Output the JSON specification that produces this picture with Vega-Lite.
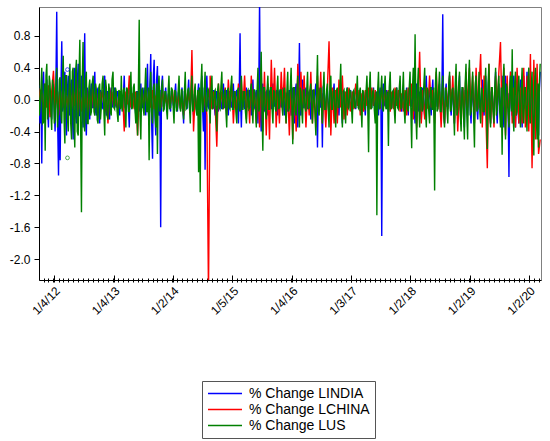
{
  "$schema": "https://vega.github.io/schema/vega-lite/v6.json",
  "autosize": {"type": "none"},
  "padding": {"left": 39, "top": 7, "right": 9, "bottom": 161},
  "width": 502,
  "height": 273,
  "datasets": {
    "marks": [
      {"d": "2012-03-27", "v": 0.376, "s": "#0000ff"},
      {"d": "2012-03-27", "v": -0.73, "s": "#008000"}
    ]
  },
  "data": {
    "values": [
      {"d": "2011-10-01", "i": 0.18, "c": -0.05, "u": 0.25},
      {"d": "2011-10-11", "i": -0.3, "c": 0.12, "u": -0.1},
      {"d": "2011-10-21", "i": -0.8, "c": 0.08, "u": 0.4},
      {"d": "2011-11-01", "i": 0.35, "c": -0.15, "u": -0.28},
      {"d": "2011-11-11", "i": -0.12, "c": 0.2, "u": -0.64},
      {"d": "2011-11-21", "i": 0.25, "c": -0.1, "u": 0.45},
      {"d": "2011-12-01", "i": -0.35, "c": 0.18, "u": -0.15},
      {"d": "2011-12-11", "i": 0.12, "c": -0.22, "u": 0.2},
      {"d": "2011-12-21", "i": -0.25, "c": 0.1, "u": -0.38},
      {"d": "2012-01-01", "i": 0.2, "c": 0.36, "u": 0.15},
      {"d": "2012-01-11", "i": -0.4, "c": -0.15, "u": -0.25},
      {"d": "2012-01-21", "i": 1.1, "c": 0.1, "u": 0.4},
      {"d": "2012-02-01", "i": -0.95, "c": -0.2, "u": -0.12},
      {"d": "2012-02-11", "i": -0.76, "c": 0.15, "u": 0.28},
      {"d": "2012-02-21", "i": 0.73, "c": -0.1, "u": -0.3},
      {"d": "2012-03-01", "i": -0.1, "c": 0.12, "u": 0.55},
      {"d": "2012-03-11", "i": 0.35, "c": -0.18, "u": -0.55},
      {"d": "2012-03-21", "i": -0.45, "c": 0.05, "u": 0.3},
      {"d": "2012-04-01", "i": 0.3, "c": -0.1, "u": -0.4},
      {"d": "2012-04-11", "i": -0.15, "c": 0.2, "u": 0.45},
      {"d": "2012-04-21", "i": 0.25, "c": -0.12, "u": -0.5},
      {"d": "2012-05-01", "i": -0.5, "c": 0.15, "u": 0.4},
      {"d": "2012-05-11", "i": 0.4, "c": -0.08, "u": -0.6},
      {"d": "2012-05-21", "i": -0.3, "c": 0.25, "u": 0.5},
      {"d": "2012-06-01", "i": 0.45, "c": -0.2, "u": -0.45},
      {"d": "2012-06-11", "i": -0.2, "c": 0.1, "u": 0.75},
      {"d": "2012-06-21", "i": 0.3, "c": -0.15, "u": -1.41},
      {"d": "2012-07-01", "i": -0.35, "c": 0.12, "u": 0.72},
      {"d": "2012-07-11", "i": 0.83, "c": -0.1, "u": -0.4},
      {"d": "2012-07-21", "i": -0.45, "c": 0.15, "u": 0.35},
      {"d": "2012-08-01", "i": 0.1, "c": -0.2, "u": -0.3},
      {"d": "2012-08-11", "i": -0.25, "c": 0.05, "u": 0.25},
      {"d": "2012-08-21", "i": 0.2, "c": -0.12, "u": -0.15},
      {"d": "2012-09-01", "i": -0.1, "c": 0.15, "u": 0.3},
      {"d": "2012-09-11", "i": 0.35, "c": -0.1, "u": -0.2},
      {"d": "2012-09-21", "i": -0.2, "c": 0.08, "u": 0.12},
      {"d": "2012-10-01", "i": 0.15, "c": -0.15, "u": -0.3},
      {"d": "2012-10-11", "i": -0.3, "c": 0.1, "u": 0.2},
      {"d": "2012-10-21", "i": 0.08, "c": -0.05, "u": -0.1},
      {"d": "2012-11-01", "i": -0.12, "c": 0.12, "u": 0.3},
      {"d": "2012-11-11", "i": 0.3, "c": -0.15, "u": -0.45},
      {"d": "2012-11-21", "i": -0.2, "c": 0.1, "u": 0.15},
      {"d": "2012-12-01", "i": 0.1, "c": -0.3, "u": -0.25},
      {"d": "2012-12-11", "i": -0.25, "c": 0.15, "u": 0.1},
      {"d": "2012-12-21", "i": 0.15, "c": -0.1, "u": -0.2},
      {"d": "2013-01-01", "i": -0.05, "c": 0.1, "u": 0.35},
      {"d": "2013-01-11", "i": 0.15, "c": -0.08, "u": -0.12},
      {"d": "2013-01-21", "i": -0.1, "c": 0.05, "u": 0.1},
      {"d": "2013-02-01", "i": 0.1, "c": -0.15, "u": -0.28},
      {"d": "2013-02-11", "i": -0.2, "c": 0.05, "u": 0.1},
      {"d": "2013-02-21", "i": 0.08, "c": -0.1, "u": 0.3},
      {"d": "2013-03-01", "i": -0.1, "c": 0.06, "u": -0.1},
      {"d": "2013-03-11", "i": 0.3, "c": -0.4, "u": 0.15},
      {"d": "2013-03-21", "i": -0.12, "c": 0.1, "u": -0.35},
      {"d": "2013-04-01", "i": 0.05, "c": -0.06, "u": 0.12},
      {"d": "2013-04-11", "i": -0.35, "c": 0.3, "u": -0.15},
      {"d": "2013-04-21", "i": 0.15, "c": -0.1, "u": 0.35},
      {"d": "2013-05-01", "i": -0.1, "c": 0.08, "u": -0.1},
      {"d": "2013-05-11", "i": 0.12, "c": -0.12, "u": 0.2},
      {"d": "2013-05-21", "i": -0.2, "c": 0.1, "u": -0.3},
      {"d": "2013-06-01", "i": 0.1, "c": -0.45, "u": -0.45},
      {"d": "2013-06-11", "i": -0.15, "c": 0.1, "u": 1.0},
      {"d": "2013-06-21", "i": 0.2, "c": -0.15, "u": -0.5},
      {"d": "2013-07-01", "i": -0.1, "c": 0.08, "u": 0.15},
      {"d": "2013-07-11", "i": 0.15, "c": -0.1, "u": -0.2},
      {"d": "2013-07-21", "i": -0.2, "c": 0.12, "u": 0.4},
      {"d": "2013-08-01", "i": 0.45, "c": -0.08, "u": -0.15},
      {"d": "2013-08-11", "i": -0.3, "c": 0.1, "u": -0.76},
      {"d": "2013-08-21", "i": 0.57, "c": -0.1, "u": 0.35},
      {"d": "2013-09-01", "i": -0.74, "c": 0.12, "u": -0.3},
      {"d": "2013-09-11", "i": 0.5, "c": -0.12, "u": 0.2},
      {"d": "2013-09-21", "i": -0.45, "c": 0.05, "u": -0.35},
      {"d": "2013-10-01", "i": 0.42, "c": -0.1, "u": -0.68},
      {"d": "2013-10-11", "i": -0.2, "c": 0.15, "u": 0.3},
      {"d": "2013-10-21", "i": -1.6, "c": -0.1, "u": -0.1},
      {"d": "2013-11-01", "i": 0.3, "c": 0.12, "u": 0.25},
      {"d": "2013-11-11", "i": -0.1, "c": -0.08, "u": -0.12},
      {"d": "2013-11-21", "i": 0.15, "c": 0.06, "u": 0.1},
      {"d": "2013-12-01", "i": -0.12, "c": -0.12, "u": -0.25},
      {"d": "2013-12-11", "i": 0.1, "c": 0.08, "u": 0.3},
      {"d": "2013-12-21", "i": -0.15, "c": -0.05, "u": -0.1},
      {"d": "2014-01-01", "i": 0.1, "c": 0.12, "u": 0.12},
      {"d": "2014-01-11", "i": -0.1, "c": -0.08, "u": -0.3},
      {"d": "2014-01-21", "i": 0.2, "c": 0.05, "u": 0.1},
      {"d": "2014-02-01", "i": -0.15, "c": -0.1, "u": -0.12},
      {"d": "2014-02-11", "i": 0.12, "c": 0.08, "u": 0.3},
      {"d": "2014-02-21", "i": -0.08, "c": -0.12, "u": -0.15},
      {"d": "2014-03-01", "i": 0.15, "c": 0.06, "u": 0.12},
      {"d": "2014-03-11", "i": -0.3, "c": -0.2, "u": -0.25},
      {"d": "2014-03-21", "i": 0.1, "c": 0.1, "u": 0.35},
      {"d": "2014-04-01", "i": -0.12, "c": -0.06, "u": -0.1},
      {"d": "2014-04-11", "i": 0.25, "c": 0.1, "u": 0.15},
      {"d": "2014-04-21", "i": -0.1, "c": -0.15, "u": -0.3},
      {"d": "2014-05-01", "i": 0.15, "c": 0.62, "u": 0.3},
      {"d": "2014-05-11", "i": -0.2, "c": -0.4, "u": -0.12},
      {"d": "2014-05-21", "i": 0.1, "c": 0.08, "u": 0.2},
      {"d": "2014-06-01", "i": -0.15, "c": -0.12, "u": -0.2},
      {"d": "2014-06-11", "i": 0.2, "c": 0.1, "u": -0.91},
      {"d": "2014-06-21", "i": -0.1, "c": -0.08, "u": -1.16},
      {"d": "2014-07-01", "i": 0.3, "c": 0.12, "u": 0.45},
      {"d": "2014-07-11", "i": -0.4, "c": -0.1, "u": -0.15},
      {"d": "2014-07-21", "i": -0.88, "c": 0.08, "u": 0.35},
      {"d": "2014-08-01", "i": 0.3, "c": -0.2, "u": -0.15},
      {"d": "2014-08-11", "i": -0.1, "c": -2.45, "u": 0.12},
      {"d": "2014-08-21", "i": 0.15, "c": 0.3, "u": -0.3},
      {"d": "2014-09-01", "i": -0.1, "c": -0.12, "u": 0.3},
      {"d": "2014-09-11", "i": 0.12, "c": 0.1, "u": -0.1},
      {"d": "2014-09-21", "i": -0.2, "c": -0.08, "u": 0.12},
      {"d": "2014-10-01", "i": 0.1, "c": -0.59, "u": -0.4},
      {"d": "2014-10-11", "i": -0.15, "c": 0.2, "u": 0.2},
      {"d": "2014-10-21", "i": 0.08, "c": -0.1, "u": -0.12},
      {"d": "2014-11-01", "i": -0.12, "c": 0.1, "u": 0.35},
      {"d": "2014-11-11", "i": 0.2, "c": -0.12, "u": -0.1},
      {"d": "2014-11-21", "i": -0.1, "c": 0.15, "u": 0.12},
      {"d": "2014-12-01", "i": 0.12, "c": -0.2, "u": -0.35},
      {"d": "2014-12-11", "i": -0.2, "c": 0.25, "u": 0.15},
      {"d": "2014-12-21", "i": 0.1, "c": -0.1, "u": -0.12},
      {"d": "2015-01-01", "i": -0.1, "c": 0.2, "u": 0.3},
      {"d": "2015-01-11", "i": 0.2, "c": -0.3, "u": -0.12},
      {"d": "2015-01-21", "i": -0.08, "c": 0.1, "u": 0.1},
      {"d": "2015-02-01", "i": 0.12, "c": -0.12, "u": -0.3},
      {"d": "2015-02-11", "i": -0.3, "c": 0.2, "u": 0.15},
      {"d": "2015-02-21", "i": 0.83, "c": -0.1, "u": -0.15},
      {"d": "2015-03-01", "i": -0.35, "c": 0.25, "u": 0.3},
      {"d": "2015-03-11", "i": 0.1, "c": -0.1, "u": -0.12},
      {"d": "2015-03-21", "i": -0.12, "c": 0.3, "u": 0.1},
      {"d": "2015-04-01", "i": 0.15, "c": -0.25, "u": -0.3},
      {"d": "2015-04-11", "i": -0.1, "c": 0.12, "u": 0.12},
      {"d": "2015-04-21", "i": 0.12, "c": -0.3, "u": -0.1},
      {"d": "2015-05-01", "i": -0.2, "c": 0.3, "u": 0.2},
      {"d": "2015-05-11", "i": 0.25, "c": -0.15, "u": -0.3},
      {"d": "2015-05-21", "i": -0.1, "c": 0.1, "u": 0.12},
      {"d": "2015-06-01", "i": 0.12, "c": -0.3, "u": -0.35},
      {"d": "2015-06-11", "i": -0.3, "c": 0.15, "u": 0.4},
      {"d": "2015-06-21", "i": 1.25, "c": -0.35, "u": -0.1},
      {"d": "2015-07-01", "i": -0.4, "c": 0.4, "u": 0.6},
      {"d": "2015-07-11", "i": 0.2, "c": -0.4, "u": -0.64},
      {"d": "2015-07-21", "i": -0.15, "c": 0.35, "u": 0.15},
      {"d": "2015-08-01", "i": 0.1, "c": -0.45, "u": -0.25},
      {"d": "2015-08-11", "i": -0.2, "c": 0.2, "u": 0.3},
      {"d": "2015-08-21", "i": 0.1, "c": -0.5, "u": -0.12},
      {"d": "2015-09-01", "i": -0.12, "c": 0.5, "u": 0.15},
      {"d": "2015-09-11", "i": 0.2, "c": -0.15, "u": -0.3},
      {"d": "2015-09-21", "i": -0.08, "c": 0.4, "u": 0.1},
      {"d": "2015-10-01", "i": 0.12, "c": -0.35, "u": -0.15},
      {"d": "2015-10-11", "i": -0.2, "c": 0.12, "u": 0.3},
      {"d": "2015-10-21", "i": 0.1, "c": -0.3, "u": -0.1},
      {"d": "2015-11-01", "i": -0.1, "c": 0.35, "u": 0.12},
      {"d": "2015-11-11", "i": 0.15, "c": -0.1, "u": -0.2},
      {"d": "2015-11-21", "i": -0.2, "c": 0.4, "u": 0.15},
      {"d": "2015-12-01", "i": 0.08, "c": -0.3, "u": -0.3},
      {"d": "2015-12-11", "i": -0.15, "c": 0.12, "u": 0.35},
      {"d": "2015-12-21", "i": 0.12, "c": -0.45, "u": -0.1},
      {"d": "2016-01-01", "i": -0.2, "c": 0.3, "u": 0.4},
      {"d": "2016-01-11", "i": 0.15, "c": -0.5, "u": -0.56},
      {"d": "2016-01-21", "i": -0.3, "c": 0.12, "u": 0.15},
      {"d": "2016-02-01", "i": 0.2, "c": -0.4, "u": -0.2},
      {"d": "2016-02-11", "i": -0.35, "c": 0.45, "u": 0.3},
      {"d": "2016-02-21", "i": 0.71, "c": -0.15, "u": -0.35},
      {"d": "2016-03-01", "i": -0.2, "c": 0.35, "u": 0.1},
      {"d": "2016-03-11", "i": 0.25, "c": -0.12, "u": -0.3},
      {"d": "2016-03-21", "i": -0.1, "c": 0.3, "u": 0.12},
      {"d": "2016-04-01", "i": 0.15, "c": -0.35, "u": -0.15},
      {"d": "2016-04-11", "i": -0.12, "c": 0.12, "u": 0.35},
      {"d": "2016-04-21", "i": 0.1, "c": -0.2, "u": -0.1},
      {"d": "2016-05-01", "i": -0.25, "c": 0.35, "u": 0.2},
      {"d": "2016-05-11", "i": 0.12, "c": -0.3, "u": -0.3},
      {"d": "2016-05-21", "i": -0.1, "c": 0.12, "u": 0.12},
      {"d": "2016-06-01", "i": 0.2, "c": -0.35, "u": -0.45},
      {"d": "2016-06-11", "i": -0.6, "c": 0.3, "u": 0.56},
      {"d": "2016-06-21", "i": 0.15, "c": -0.15, "u": -0.2},
      {"d": "2016-07-01", "i": -0.1, "c": 0.35, "u": 0.15},
      {"d": "2016-07-11", "i": -0.6, "c": -0.3, "u": -0.3},
      {"d": "2016-07-21", "i": 0.2, "c": 0.12, "u": 0.35},
      {"d": "2016-08-01", "i": -0.15, "c": -0.35, "u": -0.12},
      {"d": "2016-08-11", "i": 0.12, "c": 0.15, "u": 0.2},
      {"d": "2016-08-21", "i": -0.2, "c": 0.73, "u": -0.35},
      {"d": "2016-09-01", "i": 0.15, "c": -0.45, "u": 0.3},
      {"d": "2016-09-11", "i": -0.1, "c": 0.15, "u": -0.12},
      {"d": "2016-09-21", "i": 0.2, "c": -0.3, "u": 0.12},
      {"d": "2016-10-01", "i": -0.15, "c": 0.12, "u": -0.35},
      {"d": "2016-10-11", "i": 0.08, "c": -0.3, "u": 0.15},
      {"d": "2016-10-21", "i": -0.2, "c": 0.25, "u": -0.1},
      {"d": "2016-11-01", "i": 0.2, "c": -0.1, "u": 0.45},
      {"d": "2016-11-11", "i": -0.3, "c": 0.3, "u": -0.35},
      {"d": "2016-11-21", "i": 0.1, "c": -0.25, "u": 0.12},
      {"d": "2016-12-01", "i": -0.12, "c": 0.1, "u": -0.3},
      {"d": "2016-12-11", "i": 0.15, "c": -0.2, "u": 0.15},
      {"d": "2016-12-21", "i": -0.08, "c": 0.15, "u": -0.12},
      {"d": "2017-01-01", "i": 0.12, "c": -0.15, "u": 0.1},
      {"d": "2017-01-11", "i": -0.15, "c": 0.1, "u": -0.3},
      {"d": "2017-01-21", "i": 0.08, "c": -0.12, "u": 0.12},
      {"d": "2017-02-01", "i": -0.12, "c": 0.2, "u": -0.1},
      {"d": "2017-02-11", "i": 0.15, "c": -0.08, "u": 0.3},
      {"d": "2017-02-21", "i": -0.08, "c": 0.12, "u": -0.12},
      {"d": "2017-03-01", "i": 0.12, "c": -0.2, "u": 0.15},
      {"d": "2017-03-11", "i": -0.15, "c": 0.08, "u": -0.35},
      {"d": "2017-03-21", "i": 0.08, "c": -0.15, "u": 0.1},
      {"d": "2017-04-01", "i": -0.2, "c": 0.12, "u": -0.12},
      {"d": "2017-04-11", "i": 0.15, "c": -0.08, "u": 0.3},
      {"d": "2017-04-21", "i": -0.12, "c": 0.15, "u": -0.66},
      {"d": "2017-05-01", "i": 0.2, "c": -0.12, "u": 0.35},
      {"d": "2017-05-11", "i": -0.08, "c": 0.15, "u": -0.1},
      {"d": "2017-05-21", "i": 0.15, "c": -0.08, "u": 0.12},
      {"d": "2017-06-01", "i": -0.12, "c": 0.12, "u": -0.3},
      {"d": "2017-06-11", "i": 0.1, "c": -0.15, "u": -1.45},
      {"d": "2017-06-21", "i": -0.2, "c": 0.08, "u": 0.35},
      {"d": "2017-07-01", "i": 0.15, "c": -0.12, "u": -0.1},
      {"d": "2017-07-11", "i": -1.71, "c": 0.15, "u": 0.3},
      {"d": "2017-07-21", "i": 0.2, "c": -0.1, "u": -0.15},
      {"d": "2017-08-01", "i": -0.08, "c": 0.15, "u": 0.3},
      {"d": "2017-08-11", "i": 0.12, "c": -0.08, "u": -0.1},
      {"d": "2017-08-21", "i": -0.15, "c": 0.12, "u": -0.58},
      {"d": "2017-09-01", "i": 0.15, "c": -0.15, "u": 0.35},
      {"d": "2017-09-11", "i": -0.08, "c": 0.1, "u": -0.1},
      {"d": "2017-09-21", "i": 0.12, "c": -0.12, "u": 0.12},
      {"d": "2017-10-01", "i": -0.12, "c": 0.15, "u": -0.3},
      {"d": "2017-10-11", "i": 0.15, "c": -0.08, "u": 0.15},
      {"d": "2017-10-21", "i": -0.08, "c": 0.12, "u": -0.12},
      {"d": "2017-11-01", "i": 0.12, "c": -0.15, "u": 0.3},
      {"d": "2017-11-11", "i": -0.15, "c": 0.08, "u": -0.1},
      {"d": "2017-11-21", "i": 0.08, "c": -0.15, "u": 0.35},
      {"d": "2017-12-01", "i": -0.12, "c": 0.12, "u": -0.3},
      {"d": "2017-12-11", "i": 0.15, "c": -0.2, "u": 0.12},
      {"d": "2017-12-21", "i": -0.2, "c": 0.15, "u": -0.15},
      {"d": "2018-01-01", "i": 0.2, "c": -0.08, "u": 0.35},
      {"d": "2018-01-11", "i": -0.08, "c": 0.2, "u": -0.61},
      {"d": "2018-01-21", "i": 0.15, "c": -0.25, "u": 0.4},
      {"d": "2018-02-01", "i": -0.3, "c": 0.3, "u": 0.82},
      {"d": "2018-02-11", "i": 0.2, "c": -0.35, "u": -0.5},
      {"d": "2018-02-21", "i": -0.15, "c": 0.1, "u": 0.4},
      {"d": "2018-03-01", "i": 0.1, "c": 0.6, "u": -0.35},
      {"d": "2018-03-11", "i": -0.25, "c": -0.3, "u": 0.15},
      {"d": "2018-03-21", "i": 0.15, "c": 0.12, "u": -0.12},
      {"d": "2018-04-01", "i": -0.2, "c": -0.25, "u": 0.4},
      {"d": "2018-04-11", "i": 0.3, "c": 0.15, "u": -0.35},
      {"d": "2018-04-21", "i": -0.08, "c": -0.12, "u": 0.12},
      {"d": "2018-05-01", "i": 0.15, "c": 0.3, "u": -0.3},
      {"d": "2018-05-11", "i": -0.2, "c": -0.1, "u": 0.15},
      {"d": "2018-05-21", "i": 0.25, "c": 0.12, "u": -0.12},
      {"d": "2018-06-01", "i": -0.2, "c": -0.3, "u": -1.14},
      {"d": "2018-06-11", "i": 0.15, "c": 0.35, "u": 0.4},
      {"d": "2018-06-21", "i": -0.08, "c": -0.12, "u": -0.12},
      {"d": "2018-07-01", "i": 0.2, "c": 0.1, "u": 0.35},
      {"d": "2018-07-11", "i": -0.25, "c": -0.35, "u": -0.15},
      {"d": "2018-07-21", "i": 1.07, "c": 0.15, "u": 0.3},
      {"d": "2018-08-01", "i": -0.3, "c": -0.3, "u": -0.35},
      {"d": "2018-08-11", "i": 0.2, "c": 0.15, "u": 0.12},
      {"d": "2018-08-21", "i": -0.08, "c": -0.12, "u": -0.3},
      {"d": "2018-09-01", "i": 0.3, "c": 0.3, "u": 0.35},
      {"d": "2018-09-11", "i": -0.2, "c": -0.1, "u": -0.12},
      {"d": "2018-09-21", "i": 0.1, "c": 0.3, "u": 0.15},
      {"d": "2018-10-01", "i": -0.3, "c": -0.3, "u": -0.45},
      {"d": "2018-10-11", "i": 0.2, "c": 0.35, "u": 0.45},
      {"d": "2018-10-21", "i": -0.08, "c": -0.4, "u": -0.15},
      {"d": "2018-11-01", "i": 0.3, "c": 0.12, "u": 0.35},
      {"d": "2018-11-11", "i": -0.2, "c": -0.3, "u": -0.4},
      {"d": "2018-11-21", "i": 0.15, "c": 0.15, "u": 0.15},
      {"d": "2018-12-01", "i": -0.35, "c": -0.12, "u": -0.5},
      {"d": "2018-12-11", "i": 0.1, "c": 0.35, "u": 0.45},
      {"d": "2018-12-21", "i": -0.2, "c": -0.1, "u": -0.5},
      {"d": "2019-01-01", "i": 0.25, "c": 0.4, "u": 0.5},
      {"d": "2019-01-11", "i": -0.3, "c": -0.15, "u": -0.15},
      {"d": "2019-01-21", "i": 0.08, "c": 0.3, "u": 0.35},
      {"d": "2019-02-01", "i": -0.2, "c": -0.3, "u": -0.6},
      {"d": "2019-02-11", "i": 0.3, "c": 0.4, "u": 0.3},
      {"d": "2019-02-21", "i": -0.25, "c": -0.12, "u": -0.12},
      {"d": "2019-03-01", "i": 0.2, "c": 0.15, "u": 0.35},
      {"d": "2019-03-11", "i": -0.08, "c": 0.57, "u": -0.3},
      {"d": "2019-03-21", "i": 0.25, "c": -0.35, "u": 0.12},
      {"d": "2019-04-01", "i": -0.2, "c": 0.3, "u": -0.15},
      {"d": "2019-04-11", "i": 0.3, "c": -0.12, "u": 0.4},
      {"d": "2019-04-21", "i": -0.15, "c": -0.86, "u": -0.62},
      {"d": "2019-05-01", "i": 0.35, "c": 0.45, "u": 0.45},
      {"d": "2019-05-11", "i": -0.3, "c": -0.3, "u": -0.35},
      {"d": "2019-05-21", "i": 0.08, "c": 0.15, "u": 0.15},
      {"d": "2019-06-01", "i": -0.2, "c": -0.35, "u": -0.3},
      {"d": "2019-06-11", "i": 0.35, "c": 0.3, "u": 0.4},
      {"d": "2019-06-21", "i": -0.3, "c": -0.1, "u": -0.12},
      {"d": "2019-07-01", "i": 0.2, "c": 0.35, "u": 0.3},
      {"d": "2019-07-11", "i": -0.15, "c": 0.72, "u": -0.35},
      {"d": "2019-07-21", "i": 0.3, "c": -0.35, "u": -0.69},
      {"d": "2019-08-01", "i": -0.35, "c": 0.4, "u": 0.45},
      {"d": "2019-08-11", "i": 0.3, "c": -0.45, "u": -0.5},
      {"d": "2019-08-21", "i": -0.1, "c": 0.3, "u": 0.15},
      {"d": "2019-09-01", "i": -0.97, "c": -0.3, "u": -0.35},
      {"d": "2019-09-11", "i": 0.35, "c": 0.35, "u": 0.3},
      {"d": "2019-09-21", "i": -0.2, "c": -0.3, "u": 0.63},
      {"d": "2019-10-01", "i": 0.3, "c": 0.15, "u": -0.4},
      {"d": "2019-10-11", "i": -0.35, "c": -0.35, "u": 0.35},
      {"d": "2019-10-21", "i": 0.12, "c": 0.4, "u": -0.15},
      {"d": "2019-11-01", "i": -0.3, "c": -0.3, "u": 0.3},
      {"d": "2019-11-11", "i": 0.25, "c": 0.15, "u": -0.35},
      {"d": "2019-11-21", "i": -0.35, "c": -0.3, "u": 0.4},
      {"d": "2019-12-01", "i": 0.3, "c": 0.4, "u": -0.3},
      {"d": "2019-12-11", "i": -0.12, "c": -0.35, "u": 0.15},
      {"d": "2019-12-21", "i": 0.35, "c": 0.3, "u": -0.4},
      {"d": "2020-01-01", "i": -0.3, "c": -0.4, "u": 0.4},
      {"d": "2020-01-11", "i": 0.25, "c": 0.57, "u": -0.3},
      {"d": "2020-01-21", "i": -0.35, "c": -0.86, "u": 0.35},
      {"d": "2020-02-01", "i": 0.3, "c": 0.5, "u": -0.7},
      {"d": "2020-02-11", "i": -0.35, "c": -0.5, "u": 0.4},
      {"d": "2020-02-21", "i": 0.25, "c": 0.45, "u": -0.5},
      {"d": "2020-03-01", "i": -0.45, "c": -0.68, "u": -0.6},
      {"d": "2020-03-11", "i": 0.35, "c": -0.5, "u": 0.45},
      {"d": "2011-10-06", "i": -0.1, "u": -0.2},
      {"d": "2011-10-16", "i": 0.12, "u": 0.15},
      {"d": "2011-10-26", "i": 0.2, "u": -0.3},
      {"d": "2011-11-06", "i": -0.15, "u": 0.2},
      {"d": "2011-11-16", "i": 0.1, "u": 0.3},
      {"d": "2011-11-26", "i": -0.1, "u": -0.25},
      {"d": "2011-12-06", "i": 0.15, "u": 0.3},
      {"d": "2011-12-16", "i": -0.1, "u": -0.15},
      {"d": "2011-12-26", "i": 0.1, "u": 0.25},
      {"d": "2012-01-06", "i": -0.15, "u": -0.3},
      {"d": "2012-01-16", "i": 0.2, "u": 0.2},
      {"d": "2012-01-26", "i": -0.2, "u": -0.35},
      {"d": "2012-02-06", "i": 0.1, "u": 0.25},
      {"d": "2012-02-16", "i": 0.15, "u": -0.2},
      {"d": "2012-02-26", "i": -0.15, "u": 0.3},
      {"d": "2012-03-06", "i": 0.2, "u": -0.25},
      {"d": "2012-03-16", "i": -0.15, "u": 0.3},
      {"d": "2012-03-26", "i": 0.1, "u": -0.2},
      {"d": "2012-04-06", "i": -0.2, "u": 0.2},
      {"d": "2012-04-16", "i": 0.15, "u": -0.3},
      {"d": "2012-04-26", "i": -0.15, "u": 0.35},
      {"d": "2012-05-06", "i": 0.15, "u": -0.3},
      {"d": "2012-05-16", "i": -0.2, "u": 0.35},
      {"d": "2012-05-26", "i": 0.2, "u": -0.4},
      {"d": "2012-06-06", "i": -0.2, "u": 0.3},
      {"d": "2012-06-16", "i": 0.1, "u": -0.35},
      {"d": "2012-06-26", "i": -0.2, "u": 0.25},
      {"d": "2012-07-06", "i": 0.2, "u": -0.3},
      {"d": "2012-07-16", "i": -0.25, "u": 0.25},
      {"d": "2012-07-26", "i": 0.15, "u": -0.3},
      {"d": "2012-08-06", "i": -0.12, "u": 0.15},
      {"d": "2012-08-16", "i": 0.1, "u": -0.2},
      {"d": "2012-08-26", "i": -0.1, "u": 0.2},
      {"d": "2012-09-06", "i": 0.12, "u": -0.15},
      {"d": "2012-09-16", "i": -0.15, "u": 0.2},
      {"d": "2012-09-26", "i": 0.1, "u": -0.25},
      {"d": "2012-10-06", "i": -0.1, "u": 0.15},
      {"d": "2012-10-16", "i": 0.12, "u": -0.25},
      {"d": "2012-10-26", "i": -0.08, "u": 0.2},
      {"d": "2012-11-06", "i": 0.1, "u": -0.15},
      {"d": "2012-11-16", "i": -0.12, "u": 0.25},
      {"d": "2012-11-26", "i": 0.1, "u": -0.2},
      {"d": "2012-12-06", "i": -0.1, "u": 0.2},
      {"d": "2012-12-16", "i": 0.08, "u": -0.15},
      {"d": "2012-12-26", "i": -0.1, "u": 0.25},
      {"d": "2013-01-06", "i": 0.08, "u": -0.1},
      {"d": "2013-01-16", "i": -0.06, "u": 0.15},
      {"d": "2013-01-26", "i": 0.1, "u": -0.15},
      {"d": "2013-02-06", "i": -0.06, "u": 0.12},
      {"d": "2013-02-16", "i": 0.1, "u": -0.12},
      {"d": "2013-02-26", "i": -0.05, "u": -0.15},
      {"d": "2013-03-06", "i": 0.06, "u": 0.12},
      {"d": "2013-03-16", "i": -0.1, "u": -0.1},
      {"d": "2013-03-26", "i": 0.08, "u": 0.15},
      {"d": "2013-04-06", "i": -0.1, "u": -0.15},
      {"d": "2013-04-16", "i": 0.1, "u": 0.12},
      {"d": "2013-04-26", "i": -0.06, "u": -0.12},
      {"d": "2013-05-06", "i": 0.08, "u": 0.15},
      {"d": "2013-05-16", "i": -0.06, "u": -0.12},
      {"d": "2013-05-26", "i": 0.1, "u": 0.1},
      {"d": "2013-06-06", "i": -0.08, "u": 0.15},
      {"d": "2013-06-16", "i": 0.1, "u": -0.2},
      {"d": "2013-06-26", "i": -0.1, "u": 0.12},
      {"d": "2013-07-06", "i": 0.06, "u": -0.12},
      {"d": "2013-07-16", "i": -0.08, "u": 0.12},
      {"d": "2013-07-26", "i": 0.12, "u": -0.15},
      {"d": "2013-08-06", "i": -0.15, "u": 0.15},
      {"d": "2013-08-16", "i": 0.2, "u": 0.12},
      {"d": "2013-08-26", "i": -0.25, "u": -0.15},
      {"d": "2013-09-06", "i": 0.3, "u": 0.15},
      {"d": "2013-09-16", "i": -0.2, "u": -0.12},
      {"d": "2013-09-26", "i": 0.25, "u": 0.2},
      {"d": "2013-10-06", "i": -0.15, "u": 0.15},
      {"d": "2013-10-16", "i": 0.12, "u": -0.15},
      {"d": "2013-10-26", "i": 0.15, "u": 0.12},
      {"d": "2013-11-06", "i": -0.08, "u": -0.15},
      {"d": "2013-11-16", "i": 0.06, "u": 0.1},
      {"d": "2013-11-26", "i": -0.08, "u": -0.12},
      {"d": "2013-12-06", "i": 0.06, "u": 0.1},
      {"d": "2013-12-16", "i": -0.08, "u": -0.12},
      {"d": "2013-12-26", "i": 0.1, "u": 0.15},
      {"d": "2014-01-06", "i": -0.06, "u": -0.1},
      {"d": "2014-01-16", "i": 0.08, "u": 0.12},
      {"d": "2014-01-26", "i": -0.1, "u": -0.15},
      {"d": "2014-02-06", "i": 0.08, "u": 0.12},
      {"d": "2014-02-16", "i": -0.06, "u": -0.1},
      {"d": "2014-02-26", "i": 0.06, "u": 0.12},
      {"d": "2014-03-06", "i": -0.08, "u": -0.12},
      {"d": "2014-03-16", "i": 0.1, "u": 0.1},
      {"d": "2014-03-26", "i": -0.06, "u": -0.12},
      {"d": "2014-04-06", "i": 0.08, "u": 0.12},
      {"d": "2014-04-16", "i": -0.1, "u": -0.1},
      {"d": "2014-04-26", "i": 0.06, "u": 0.12},
      {"d": "2014-05-06", "i": -0.08, "u": -0.15},
      {"d": "2014-05-16", "i": 0.06, "u": 0.1},
      {"d": "2014-05-26", "i": -0.08, "u": -0.12},
      {"d": "2014-06-06", "i": 0.08, "u": 0.12},
      {"d": "2014-06-16", "i": -0.1, "u": 0.15},
      {"d": "2014-06-26", "i": 0.1, "u": 0.2},
      {"d": "2014-07-06", "i": -0.12, "u": -0.15},
      {"d": "2014-07-16", "i": 0.15, "u": 0.12},
      {"d": "2014-07-26", "i": 0.12, "u": -0.12},
      {"d": "2014-08-06", "i": -0.08, "u": 0.15},
      {"d": "2014-08-16", "i": 0.06, "u": -0.1},
      {"d": "2014-08-26", "i": -0.08, "u": 0.12},
      {"d": "2014-09-06", "i": 0.06, "u": -0.12},
      {"d": "2014-09-16", "i": -0.08, "u": 0.1},
      {"d": "2014-09-26", "i": 0.1, "u": -0.12},
      {"d": "2014-10-06", "i": -0.06, "u": 0.12},
      {"d": "2014-10-16", "i": 0.08, "u": -0.1},
      {"d": "2014-10-26", "i": -0.06, "u": 0.15},
      {"d": "2014-11-06", "i": 0.08, "u": -0.12},
      {"d": "2014-11-16", "i": -0.1, "u": 0.1},
      {"d": "2014-11-26", "i": 0.06, "u": -0.15},
      {"d": "2014-12-06", "i": -0.08, "u": 0.12},
      {"d": "2014-12-16", "i": 0.1, "u": -0.1},
      {"d": "2014-12-26", "i": -0.06, "u": 0.15},
      {"d": "2015-01-06", "i": 0.06, "u": -0.12},
      {"d": "2015-01-16", "i": -0.1, "u": 0.1},
      {"d": "2015-01-26", "i": 0.08, "u": -0.15},
      {"d": "2015-02-06", "i": -0.08, "u": 0.12},
      {"d": "2015-02-16", "i": 0.12, "u": -0.12},
      {"d": "2015-02-26", "i": -0.15, "u": 0.12},
      {"d": "2015-03-06", "i": 0.1, "u": -0.12},
      {"d": "2015-03-16", "i": -0.06, "u": 0.1},
      {"d": "2015-03-26", "i": 0.08, "u": -0.15},
      {"d": "2015-04-06", "i": -0.06, "u": 0.1},
      {"d": "2015-04-16", "i": 0.08, "u": -0.12},
      {"d": "2015-04-26", "i": -0.06, "u": 0.12},
      {"d": "2015-05-06", "i": 0.1, "u": -0.12},
      {"d": "2015-05-16", "i": -0.08, "u": 0.12},
      {"d": "2015-05-26", "i": 0.06, "u": -0.1},
      {"d": "2015-06-06", "i": -0.06, "u": 0.12},
      {"d": "2015-06-16", "i": 0.1, "u": -0.15},
      {"d": "2015-06-26", "i": -0.15, "u": 0.15},
      {"d": "2015-07-06", "i": 0.1, "u": -0.15},
      {"d": "2015-07-16", "i": -0.1, "u": 0.15},
      {"d": "2015-07-26", "i": 0.08, "u": -0.12},
      {"d": "2015-08-06", "i": -0.08, "u": 0.12},
      {"d": "2015-08-16", "i": 0.08, "u": -0.12},
      {"d": "2015-08-26", "i": -0.06, "u": 0.15},
      {"d": "2015-09-06", "i": 0.06, "u": -0.12},
      {"d": "2015-09-16", "i": -0.08, "u": 0.12},
      {"d": "2015-09-26", "i": 0.08, "u": -0.12},
      {"d": "2015-10-06", "i": -0.06, "u": 0.12},
      {"d": "2015-10-16", "i": 0.08, "u": -0.12},
      {"d": "2015-10-26", "i": -0.06, "u": 0.12},
      {"d": "2015-11-06", "i": 0.08, "u": -0.1},
      {"d": "2015-11-16", "i": -0.06, "u": 0.12},
      {"d": "2015-11-26", "i": 0.08, "u": -0.12},
      {"d": "2015-12-06", "i": -0.06, "u": 0.12},
      {"d": "2015-12-16", "i": 0.06, "u": -0.15},
      {"d": "2015-12-26", "i": -0.08, "u": 0.12},
      {"d": "2016-01-06", "i": 0.08, "u": -0.12},
      {"d": "2016-01-16", "i": -0.08, "u": 0.15},
      {"d": "2016-01-26", "i": 0.1, "u": -0.15},
      {"d": "2016-02-06", "i": -0.1, "u": 0.12},
      {"d": "2016-02-16", "i": 0.12, "u": -0.12},
      {"d": "2016-02-26", "i": -0.15, "u": 0.15},
      {"d": "2016-03-06", "i": 0.08, "u": -0.12},
      {"d": "2016-03-16", "i": -0.1, "u": 0.12},
      {"d": "2016-03-26", "i": 0.06, "u": -0.1},
      {"d": "2016-04-06", "i": -0.06, "u": 0.12},
      {"d": "2016-04-16", "i": 0.08, "u": -0.12},
      {"d": "2016-04-26", "i": -0.06, "u": 0.12},
      {"d": "2016-05-06", "i": 0.08, "u": -0.1},
      {"d": "2016-05-16", "i": -0.06, "u": 0.12},
      {"d": "2016-05-26", "i": 0.08, "u": -0.15},
      {"d": "2016-06-06", "i": -0.08, "u": 0.15},
      {"d": "2016-06-16", "i": 0.1, "u": -0.15},
      {"d": "2016-06-26", "i": -0.06, "u": 0.12},
      {"d": "2016-07-06", "i": 0.08, "u": -0.12},
      {"d": "2016-07-16", "i": 0.15, "u": 0.12},
      {"d": "2016-07-26", "i": -0.08, "u": -0.12},
      {"d": "2016-08-06", "i": 0.06, "u": 0.12},
      {"d": "2016-08-16", "i": -0.08, "u": -0.12},
      {"d": "2016-08-26", "i": 0.08, "u": 0.15},
      {"d": "2016-09-06", "i": -0.06, "u": -0.12},
      {"d": "2016-09-16", "i": 0.08, "u": 0.1},
      {"d": "2016-09-26", "i": -0.08, "u": -0.12},
      {"d": "2016-10-06", "i": 0.06, "u": 0.12},
      {"d": "2016-10-16", "i": -0.06, "u": -0.1},
      {"d": "2016-10-26", "i": 0.08, "u": 0.12},
      {"d": "2016-11-06", "i": -0.08, "u": -0.12},
      {"d": "2016-11-16", "i": 0.1, "u": 0.1},
      {"d": "2016-11-26", "i": -0.06, "u": -0.12},
      {"d": "2016-12-06", "i": 0.06, "u": 0.1},
      {"d": "2016-12-16", "i": -0.06, "u": -0.1},
      {"d": "2016-12-26", "i": 0.06, "u": 0.12},
      {"d": "2017-01-06", "i": -0.06, "u": -0.1},
      {"d": "2017-01-16", "i": 0.06, "u": 0.1},
      {"d": "2017-01-26", "i": -0.06, "u": -0.1},
      {"d": "2017-02-06", "i": 0.06, "u": 0.1},
      {"d": "2017-02-16", "i": -0.06, "u": -0.1},
      {"d": "2017-02-26", "i": 0.06, "u": 0.12},
      {"d": "2017-03-06", "i": -0.06, "u": -0.1},
      {"d": "2017-03-16", "i": 0.06, "u": 0.12},
      {"d": "2017-03-26", "i": -0.06, "u": -0.1},
      {"d": "2017-04-06", "i": 0.06, "u": 0.12},
      {"d": "2017-04-16", "i": -0.06, "u": -0.1},
      {"d": "2017-04-26", "i": 0.06, "u": 0.15},
      {"d": "2017-05-06", "i": -0.06, "u": -0.12},
      {"d": "2017-05-16", "i": 0.06, "u": 0.1},
      {"d": "2017-05-26", "i": -0.06, "u": -0.12},
      {"d": "2017-06-06", "i": 0.06, "u": 0.1},
      {"d": "2017-06-16", "i": -0.06, "u": 0.12},
      {"d": "2017-06-26", "i": 0.06, "u": -0.12},
      {"d": "2017-07-06", "i": -0.06, "u": 0.12},
      {"d": "2017-07-16", "i": 0.1, "u": -0.1},
      {"d": "2017-07-26", "i": -0.06, "u": 0.12},
      {"d": "2017-08-06", "i": 0.06, "u": -0.12},
      {"d": "2017-08-16", "i": -0.06, "u": 0.1},
      {"d": "2017-08-26", "i": 0.06, "u": 0.15},
      {"d": "2017-09-06", "i": -0.06, "u": -0.12},
      {"d": "2017-09-16", "i": 0.06, "u": 0.1},
      {"d": "2017-09-26", "i": -0.06, "u": -0.12},
      {"d": "2017-10-06", "i": 0.06, "u": 0.1},
      {"d": "2017-10-16", "i": -0.06, "u": -0.1},
      {"d": "2017-10-26", "i": 0.06, "u": 0.12},
      {"d": "2017-11-06", "i": -0.06, "u": -0.12},
      {"d": "2017-11-16", "i": 0.06, "u": 0.1},
      {"d": "2017-11-26", "i": -0.06, "u": -0.12},
      {"d": "2017-12-06", "i": 0.06, "u": 0.1},
      {"d": "2017-12-16", "i": -0.06, "u": -0.12},
      {"d": "2017-12-26", "i": 0.08, "u": 0.12},
      {"d": "2018-01-06", "i": -0.08, "u": -0.15},
      {"d": "2018-01-16", "i": 0.08, "u": 0.15},
      {"d": "2018-01-26", "i": -0.1, "u": -0.15},
      {"d": "2018-02-06", "i": 0.1, "u": -0.2},
      {"d": "2018-02-16", "i": -0.1, "u": 0.15},
      {"d": "2018-02-26", "i": 0.08, "u": -0.2},
      {"d": "2018-03-06", "i": -0.08, "u": 0.15},
      {"d": "2018-03-16", "i": 0.1, "u": -0.15},
      {"d": "2018-03-26", "i": -0.08, "u": 0.15},
      {"d": "2018-04-06", "i": 0.1, "u": -0.15},
      {"d": "2018-04-16", "i": -0.1, "u": 0.15},
      {"d": "2018-04-26", "i": 0.08, "u": -0.15},
      {"d": "2018-05-06", "i": -0.08, "u": 0.15},
      {"d": "2018-05-16", "i": 0.1, "u": -0.12},
      {"d": "2018-05-26", "i": -0.1, "u": 0.15},
      {"d": "2018-06-06", "i": 0.08, "u": 0.2},
      {"d": "2018-06-16", "i": -0.08, "u": -0.15},
      {"d": "2018-06-26", "i": 0.1, "u": 0.15},
      {"d": "2018-07-06", "i": -0.08, "u": -0.15},
      {"d": "2018-07-16", "i": 0.1, "u": 0.12},
      {"d": "2018-07-26", "i": -0.15, "u": -0.15},
      {"d": "2018-08-06", "i": 0.1, "u": 0.15},
      {"d": "2018-08-16", "i": -0.08, "u": -0.12},
      {"d": "2018-08-26", "i": 0.1, "u": 0.15},
      {"d": "2018-09-06", "i": -0.1, "u": -0.15},
      {"d": "2018-09-16", "i": 0.08, "u": 0.12},
      {"d": "2018-09-26", "i": -0.1, "u": -0.15},
      {"d": "2018-10-06", "i": 0.1, "u": 0.2},
      {"d": "2018-10-16", "i": -0.1, "u": -0.2},
      {"d": "2018-10-26", "i": 0.1, "u": 0.15},
      {"d": "2018-11-06", "i": -0.1, "u": -0.2},
      {"d": "2018-11-16", "i": 0.1, "u": 0.15},
      {"d": "2018-11-26", "i": -0.1, "u": -0.2},
      {"d": "2018-12-06", "i": 0.12, "u": 0.2},
      {"d": "2018-12-16", "i": -0.1, "u": -0.2},
      {"d": "2018-12-26", "i": 0.1, "u": 0.2},
      {"d": "2019-01-06", "i": -0.1, "u": -0.2},
      {"d": "2019-01-16", "i": 0.1, "u": 0.15},
      {"d": "2019-01-26", "i": -0.08, "u": -0.15},
      {"d": "2019-02-06", "i": 0.1, "u": 0.2},
      {"d": "2019-02-16", "i": -0.1, "u": -0.15},
      {"d": "2019-02-26", "i": 0.08, "u": 0.15},
      {"d": "2019-03-06", "i": -0.1, "u": -0.15},
      {"d": "2019-03-16", "i": 0.08, "u": 0.15},
      {"d": "2019-03-26", "i": -0.1, "u": -0.15},
      {"d": "2019-04-06", "i": 0.1, "u": 0.15},
      {"d": "2019-04-16", "i": -0.1, "u": -0.15},
      {"d": "2019-04-26", "i": 0.1, "u": 0.2},
      {"d": "2019-05-06", "i": -0.1, "u": -0.2},
      {"d": "2019-05-16", "i": 0.1, "u": 0.15},
      {"d": "2019-05-26", "i": -0.08, "u": -0.15},
      {"d": "2019-06-06", "i": 0.1, "u": 0.15},
      {"d": "2019-06-16", "i": -0.1, "u": -0.2},
      {"d": "2019-06-26", "i": 0.1, "u": 0.15},
      {"d": "2019-07-06", "i": -0.08, "u": -0.15},
      {"d": "2019-07-16", "i": 0.1, "u": 0.15},
      {"d": "2019-07-26", "i": -0.1, "u": 0.2},
      {"d": "2019-08-06", "i": 0.12, "u": -0.2},
      {"d": "2019-08-16", "i": -0.1, "u": 0.2},
      {"d": "2019-08-26", "i": 0.08, "u": -0.15},
      {"d": "2019-09-06", "i": 0.15, "u": 0.15},
      {"d": "2019-09-16", "i": -0.1, "u": -0.15},
      {"d": "2019-09-26", "i": 0.1, "u": -0.2},
      {"d": "2019-10-06", "i": -0.1, "u": 0.2},
      {"d": "2019-10-16", "i": 0.1, "u": -0.2},
      {"d": "2019-10-26", "i": -0.1, "u": 0.15},
      {"d": "2019-11-06", "i": 0.1, "u": -0.15},
      {"d": "2019-11-16", "i": -0.1, "u": 0.15},
      {"d": "2019-11-26", "i": 0.12, "u": -0.2},
      {"d": "2019-12-06", "i": -0.1, "u": 0.15},
      {"d": "2019-12-16", "i": 0.08, "u": -0.15},
      {"d": "2019-12-26", "i": -0.1, "u": 0.2},
      {"d": "2020-01-06", "i": 0.1, "u": -0.2},
      {"d": "2020-01-16", "i": -0.1, "u": 0.15},
      {"d": "2020-01-26", "i": 0.12, "u": -0.2},
      {"d": "2020-02-06", "i": -0.1, "u": 0.2},
      {"d": "2020-02-16", "i": 0.12, "u": -0.2},
      {"d": "2020-02-26", "i": -0.1, "u": 0.2},
      {"d": "2020-03-06", "i": 0.12, "u": 0.2}
    ]
  },
  "layer": [
    {
      "transform": [{"fold": ["i", "c", "u"], "as": ["k", "v"]}],
      "mark": {"type": "line", "clip": true, "strokeWidth": 1.4, "invalid": "filter"},
      "encoding": {
        "x": {
          "field": "d", "type": "temporal", "title": null,
          "scale": {"domain": [{"year": 2011, "month": 10, "date": 4}, {"year": 2020, "month": 3, "date": 16}]},
          "axis": {
            "orient": "bottom",
            "values": [
              {"year": 2012, "month": 1, "date": 4},
              {"year": 2013, "month": 1, "date": 4},
              {"year": 2014, "month": 1, "date": 2},
              {"year": 2015, "month": 1, "date": 5},
              {"year": 2016, "month": 1, "date": 4},
              {"year": 2017, "month": 1, "date": 3},
              {"year": 2018, "month": 1, "date": 2},
              {"year": 2019, "month": 1, "date": 2},
              {"year": 2020, "month": 1, "date": 2}
            ],
            "tickCount": 50,
            "format": "%-m/%-d/%y",
            "labelAngle": -45,
            "labelPadding": 3,
            "labelFlush": false,
            "labelOverlap": false,
            "tickSize": 2,
            "grid": false
          }
        },
        "y": {
          "field": "v", "type": "quantitative", "title": null,
          "scale": {"domain": [-2.26, 1.16], "nice": false, "zero": false},
          "axis": {
            "values": [-2.0, -1.6, -1.2, -0.8, -0.4, 0, 0.4, 0.8],
            "tickCount": 50,
            "format": ".1f",
            "labelExpr": "replace(datum.label, '−', '-')",
            "labelOverlap": false,
            "tickSize": 5,
            "labelPadding": 4,
            "grid": false
          }
        },
        "color": {
          "field": "k", "type": "nominal",
          "scale": {"domain": ["i", "c", "u"], "range": ["#0000ff", "#ff0000", "#008000"]},
          "legend": {
            "orient": "none",
            "legendX": 163,
            "legendY": 374,
            "title": null,
            "labelExpr": "datum.label == 'i' ? '% Change LINDIA' : datum.label == 'c' ? '% Change LCHINA' : '% Change LUS'",
            "strokeColor": "#555555",
            "padding": 5,
            "labelFontSize": 14,
            "labelOffset": 6,
            "symbolSize": 1156,
            "clipHeight": 15,
            "rowPadding": 1
          }
        }
      }
    },
    {
      "data": {"name": "marks"},
      "mark": {"type": "point", "filled": false, "size": 14, "strokeWidth": 1, "clip": true},
      "encoding": {
        "x": {
          "field": "d", "type": "temporal", "title": null,
          "scale": {"domain": [{"year": 2011, "month": 10, "date": 4}, {"year": 2020, "month": 3, "date": 16}]},
          "axis": {"orient": "bottom", "tickCount": {"interval": "month", "step": 1}, "labels": false, "domain": false, "tickSize": 2, "grid": false}
        },
        "y": {
          "field": "v", "type": "quantitative", "title": null,
          "scale": {"domain": [-2.26, 1.16], "nice": false, "zero": false}
        },
        "stroke": {"field": "s", "type": "nominal", "scale": null}
      }
    },
    {
      "data": {"name": "marks"},
      "mark": {"type": "point", "opacity": 0, "clip": true},
      "encoding": {
        "x": {
          "field": "d", "type": "temporal", "title": null,
          "scale": {"domain": [{"year": 2011, "month": 10, "date": 4}, {"year": 2020, "month": 3, "date": 16}]},
          "axis": {
            "orient": "bottom",
            "values": [
              {"year": 2012, "month": 1, "date": 4},
              {"year": 2013, "month": 1, "date": 4},
              {"year": 2014, "month": 1, "date": 2},
              {"year": 2015, "month": 1, "date": 5},
              {"year": 2016, "month": 1, "date": 4},
              {"year": 2017, "month": 1, "date": 3},
              {"year": 2018, "month": 1, "date": 2},
              {"year": 2019, "month": 1, "date": 2},
              {"year": 2020, "month": 1, "date": 2}
            ],
            "tickCount": 50,
            "labels": false, "domain": false, "tickSize": -5, "grid": false
          }
        },
        "y": {
          "field": "v", "type": "quantitative", "title": null,
          "scale": {"domain": [-2.26, 1.16], "nice": false, "zero": false}
        }
      }
    },
    {
      "data": {"name": "marks"},
      "mark": {"type": "point", "opacity": 0, "clip": true},
      "encoding": {
        "x": {
          "field": "d", "type": "temporal", "title": null,
          "scale": {"domain": [{"year": 2011, "month": 10, "date": 4}, {"year": 2020, "month": 3, "date": 16}]},
          "axis": {"orient": "bottom", "tickCount": {"interval": "month", "step": 1}, "labels": false, "domain": false, "tickSize": -2, "grid": false}
        },
        "y": {
          "field": "v", "type": "quantitative", "title": null,
          "scale": {"domain": [-2.26, 1.16], "nice": false, "zero": false}
        }
      }
    }
  ],
  "resolve": {"axis": {"x": "independent"}},
  "config": {
    "font": "Liberation Sans",
    "view": {"stroke": "#808080", "strokeWidth": 1},
    "axis": {
      "labelFont": "Liberation Sans",
      "labelFontSize": 12,
      "labelColor": "#000000",
      "labelOverlap": false,
      "tickColor": "#000000",
      "domainColor": "#000000",
      "tickWidth": 1,
      "domainWidth": 1
    },
    "legend": {
      "labelFont": "Liberation Sans",
      "labelColor": "#000000"
    }
  }
}
